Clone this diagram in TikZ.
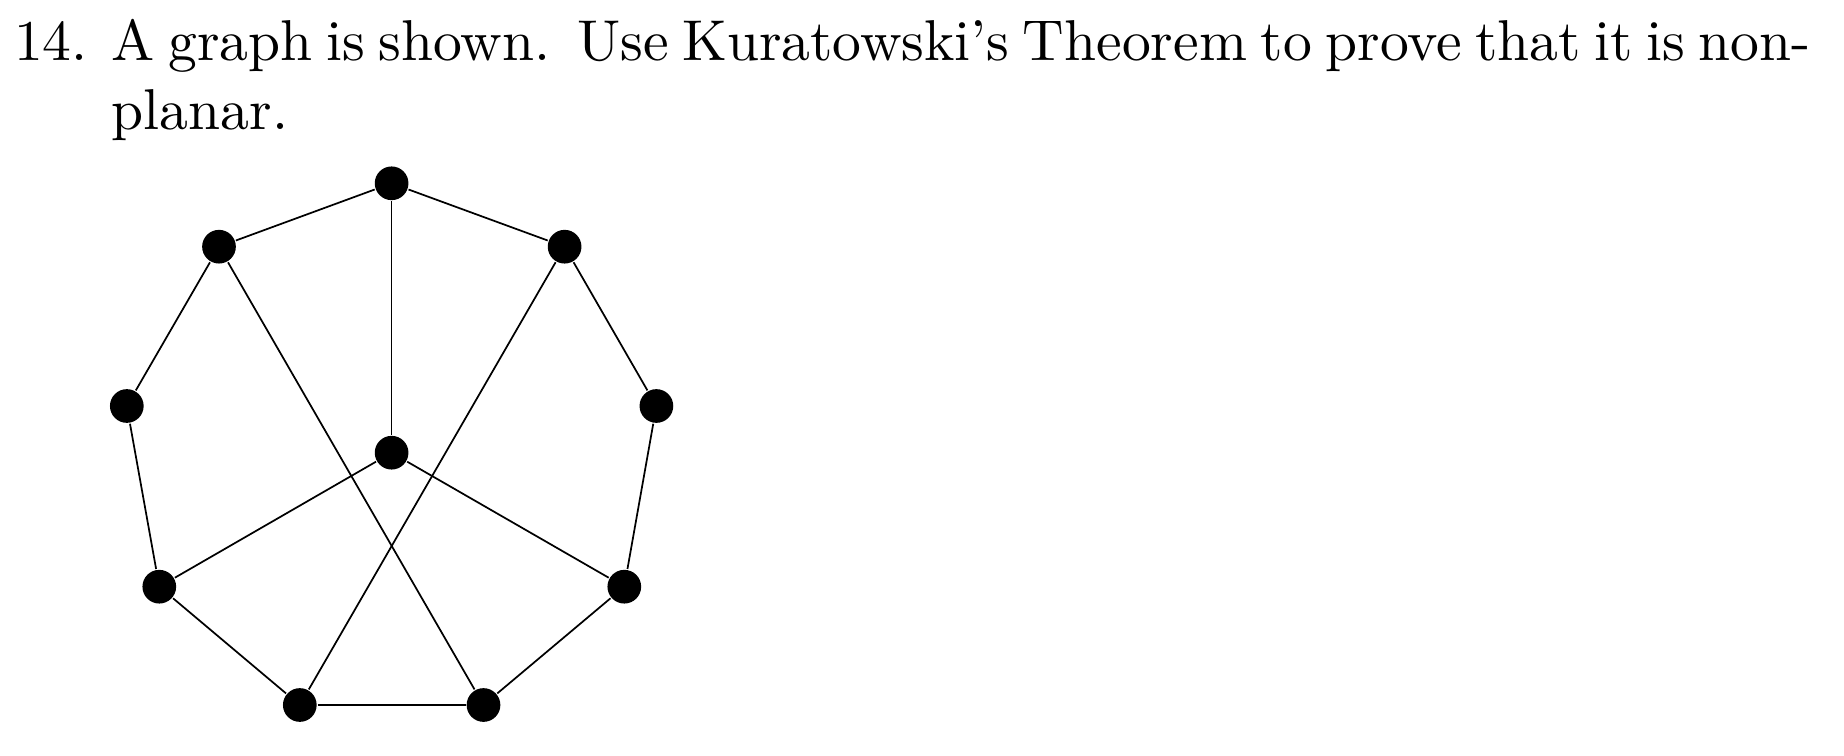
\documentclass[tikz,border=0pt]{standalone}
\begin{document}
\begin{tikzpicture}[x=0.1736pt,y=-0.1736pt,
  vtx/.style={circle,fill=black,inner sep=0pt,minimum size=5.85pt},
  edge/.style={line width=0.3pt},
  txt/.style={inner sep=0pt,anchor=base west,font=\fontsize{10pt}{12pt}\selectfont}]
\useasboundingbox (0,0) rectangle (1844,756);
\node[txt] (num) at (13,61) {14.};
\node[txt] (l1) at (110.7,61) {\makebox[294.9pt][s]{A graph is shown.\ \ Use Kuratowski's Theorem to prove that it is non-}};
\node[txt] (l2) at (110.7,130) {planar.};
\node[vtx] (t)  at (391.6,183.3) {};
\node[vtx] (ul) at (219,246.7) {};
\node[vtx] (ur) at (564.6,246.7) {};
\node[vtx] (l)  at (126.8,406) {};
\node[vtx] (r)  at (656.4,406) {};
\node[vtx] (c)  at (391.6,452.7) {};
\node[vtx] (ll) at (159.3,586.7) {};
\node[vtx] (lr) at (624.3,586.7) {};
\node[vtx] (bl) at (299.8,705) {};
\node[vtx] (br) at (483.5,705) {};
\draw[edge] (t) -- (ul);
\draw[edge] (t) -- (ur);
\draw[edge] (t) -- (c);
\draw[edge] (ul) -- (l);
\draw[edge] (ul) -- (br);
\draw[edge] (ur) -- (r);
\draw[edge] (ur) -- (bl);
\draw[edge] (l) -- (ll);
\draw[edge] (r) -- (lr);
\draw[edge] (c) -- (ll);
\draw[edge] (c) -- (lr);
\draw[edge] (ll) -- (bl);
\draw[edge] (lr) -- (br);
\draw[edge] (bl) -- (br);
\end{tikzpicture}
\end{document}
